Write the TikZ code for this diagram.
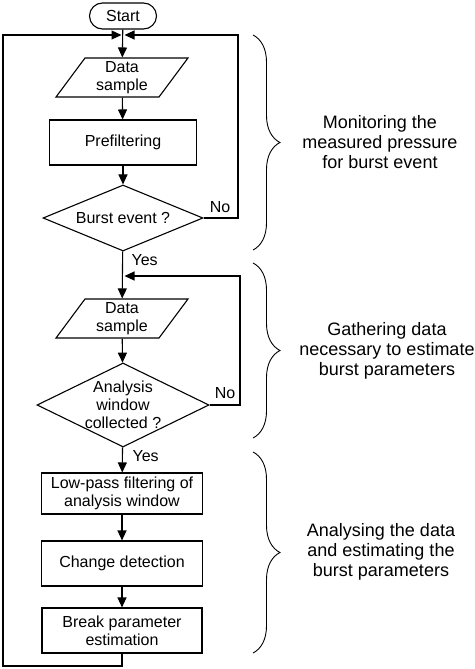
\documentclass[tikz,border=0pt]{standalone}
\usepackage{fontspec}
\setmainfont{Liberation Sans}
\usetikzlibrary{shapes.geometric,arrows.meta,decorations.pathreplacing}

\tikzstyle{box}=[rectangle,draw,font=\fontsize{16}{18}\selectfont,align=center,inner sep=0pt]
\tikzstyle{terminal}=[box,rounded corners=13pt,minimum width=67pt,minimum height=26pt]
\tikzstyle{io}=[trapezium,trapezium left angle=58,trapezium right angle=122,trapezium stretches=true,draw,font=\fontsize{16}{18}\selectfont,align=center,inner sep=0pt,minimum width=133pt,minimum height=39pt]
\tikzstyle{decision}=[diamond,draw,inner sep=0pt]
\tikzstyle{tag}=[font=\fontsize{16}{18}\selectfont,inner sep=0pt]
\tikzstyle{note}=[font=\fontsize{18}{20}\selectfont,align=center,inner sep=0pt]
\tikzstyle{bracket}=[-,draw,line width=0.9pt,decorate,decoration={brace,amplitude=27pt}]

\begin{document}
\begin{tikzpicture}[x=1pt, y=-1pt, ->, >={Triangle[length=10pt,width=9pt]}, line width=1.1pt]
			\useasboundingbox (0,0) rectangle (474,669);
			\node [terminal] (start) at (123,16) {Start};
			\node [io] (ds1) at (122,77.5) {Data\\sample};
			\node [box,minimum width=147pt,minimum height=45pt] (pre) at (123,142.5) {Prefiltering};
			\node [decision,minimum width=160pt,minimum height=66pt,label={[tag]center:Burst event ?}] (d1) at (123,218) {};
			\node [io] (ds2) at (122,318.5) {Data\\sample};
			\node [decision,minimum width=172pt,minimum height=84pt,label={[tag,align=center]center:Analysis\\window\\collected ?}] (d2) at (123,405) {};
			\node [box,minimum width=161pt,minimum height=41pt] (lp) at (122,493.5) {Low-pass filtering of\\analysis window};
			\node [box,minimum width=161pt,minimum height=45pt] (chg) at (122,563.5) {Change detection};
			\node [box,minimum width=160pt,minimum height=45pt] (brk) at (122,630.5) {Break parameter\\estimation};

			\coordinate (jn1) at (123,35);
			\coordinate (tl) at (3,35);
			\coordinate (bl) at (3,666);
			\coordinate (tr1) at (238,35);
			\coordinate (jn2) at (123,276);
			\coordinate (tr2) at (240,276);

			\node [tag] (no1) at (220,207) {No};
			\node [tag,anchor=west] (yes1) at (131,260) {Yes};
			\node [tag] (no2) at (225,393) {No};
			\node [tag,anchor=west] (yes2) at (132,456) {Yes};

			\draw (start) -- (ds1);
			\draw (ds1) -- (pre);
			\draw (pre) -- (d1);
			\draw (d1) -- (ds2);
			\draw (ds2) -- (d2);
			\draw (d2) -- (lp);
			\draw (lp) -- (chg);
			\draw (chg) -- (brk);
			\draw [shorten >=1.5pt] (brk) |- (bl) -- (tl) -- (jn1);
			\draw [shorten >=1.5pt] (d1) -| (tr1) -- (jn1);
			\draw [shorten >=1.5pt] (d2) -| (tr2) -- (jn2);

			\draw [bracket] (253,35) -- (253,250);
			\draw [bracket] (253,263) -- (253,438);
			\draw [bracket] (253,452) -- (253,653);
			\node [note] (mon) at (380,142) {Monitoring the\\measured pressure\\for burst event};
			\node [note] (gat) at (387,351) {Gathering data\\necessary to estimate\\burst parameters};
			\node [note] (ana) at (381,552) {Analysing the data\\and estimating the\\burst parameters};
\end{tikzpicture}
\end{document}
